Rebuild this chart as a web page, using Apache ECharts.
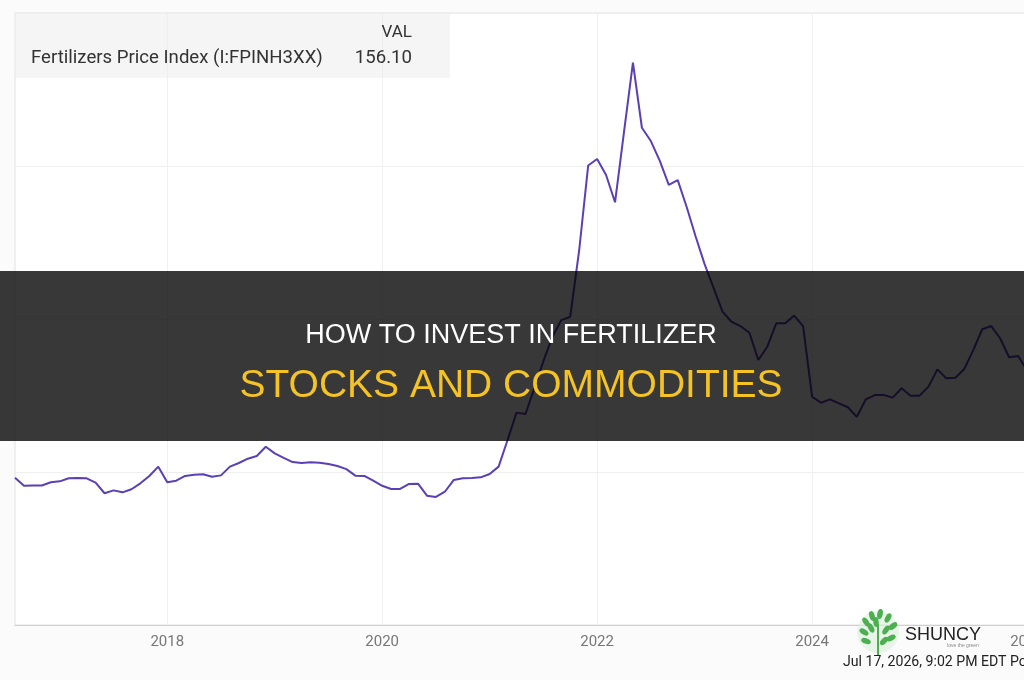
<!DOCTYPE html>
<html>
<head>
<meta charset="utf-8">
<title>Fertilizers Price Index</title>
<script src="https://cdn.jsdelivr.net/npm/echarts@6/dist/echarts.min.js"></script>
<style>
html, body { margin: 0; padding: 0; background: #fff; }
#chart { width: 1024px; height: 680px; }
</style>
</head>
<body>
<div id="chart"></div>
<script>
// monthly index values (Aug 2016 .. Jan 2026)
const v2016 = [96.3, 91.0, 91.2, 91.2, 93.3];
const v2017 = [93.9, 95.9, 96.1, 95.9, 93.0, 86.1, 88.0, 86.7, 88.7, 92.6, 97.4, 103.5];
const v2018 = [93.3, 94.3, 97.4, 98.2, 98.5, 96.9, 97.8, 103.5, 105.9, 108.7, 110.5, 116.5];
const v2019 = [112.2, 109.2, 106.5, 105.9, 106.3, 106.1, 105.2, 103.9, 101.9, 97.6, 97.4, 94.3];
const v2020 = [91.0, 88.9, 88.9, 92.2, 92.4, 84.5, 83.7, 87.1, 94.8, 95.9, 96.1, 96.5];
const v2021 = [98.7, 103.5, 120.9, 138.8, 137.9, 154.9, 172.5, 188.2, 199.3, 201.5, 245.1, 300.3];
const v2022 = [304.6, 294.1, 276.3, 322.2, 367.5, 325.0, 316.3, 303.3, 287.6, 290.8, 273.2, 253.9];
const v2023 = [235.9, 220.3, 204.8, 198.2, 195.4, 191.0, 173.2, 181.9, 197.2, 197.2, 202.2, 195.4];
const v2024 = [149.2, 145.3, 147.5, 144.9, 142.3, 136.1, 147.5, 150.3, 150.3, 148.6, 154.7, 149.9];
const v2025 = [149.9, 155.8, 167.1, 161.2, 161.6, 167.3, 179.7, 193.3, 195.4, 187.4, 175.0, 175.8];
const v2026 = [166.7];

const yearTicks = ['2018', '2020', '2022', '2024', '2026'];
const seriesName = 'Fertilizers Price Index (I:FPINH3XX)';
const lastVal = '156.10';

// [year, first month, values]
const years = [
    [2016, 8, v2016], [2017, 1, v2017], [2018, 1, v2018], [2019, 1, v2019],
    [2020, 1, v2020], [2021, 1, v2021], [2022, 1, v2022], [2023, 1, v2023],
    [2024, 1, v2024], [2025, 1, v2025], [2026, 1, v2026]
];
const months = [];
const values = [];
years.forEach(([y, m0, arr]) => {
    arr.forEach((v, i) => {
        months.push(y + '-' + String(m0 + i).padStart(2, '0'));
        values.push(v);
    });
});

const isYearTick = (index) => {
    const [y, m] = months[index].split('-');
    return m === '01' && yearTicks.includes(y);
};

// little tree for the watermark logo
const leaves = [
    [866, 622, 0.6], [872, 616, 0.3], [880, 614, -0.2], [888, 618, -0.5],
    [893, 626, -0.9], [864, 632, 1.0], [871, 628, 0.5], [886, 630, -0.6],
    [891, 638, -1.1], [866, 641, 1.2], [884, 641, -0.8], [876, 622, 0.1]
];

const chart = echarts.init(document.getElementById('chart'));

chart.setOption({
    animation: false,
    backgroundColor: '#fbfbfb',
    grid: {
        left: 15,
        top: 13,
        right: -3,
        bottom: 55,
        outerBoundsMode: 'none',
        show: true,
        backgroundColor: '#fff',
        borderColor: '#e2e2e2',
        borderWidth: 1
    },
    xAxis: {
        type: 'category',
        data: months,
        boundaryGap: false,
        axisLine: { lineStyle: { color: '#cfcfcf' } },
        axisTick: { show: false },
        axisLabel: {
            interval: (index) => isYearTick(index),
            formatter: (val) => val.slice(0, 4),
            color: '#777',
            fontFamily: 'Roboto',
            fontSize: 15,
            margin: 10
        },
        splitLine: {
            show: true,
            interval: (index) => isYearTick(index),
            lineStyle: { color: '#f0f0f0' }
        }
    },
    yAxis: {
        type: 'value',
        min: 0,
        max: 400,
        interval: 100,
        axisLabel: { show: false },
        axisLine: { show: false },
        axisTick: { show: false },
        splitLine: { lineStyle: { color: '#efefef' } }
    },
    series: [
        {
            name: seriesName,
            type: 'line',
            data: values,
            showSymbol: false,
            lineStyle: { color: '#5b3fb4', width: 2 },
            itemStyle: { color: '#5b3fb4' }
        }
    ],
    graphic: [
        // legend box
        { type: 'rect', z: 100, shape: { x: 15, y: 13, width: 435, height: 65 },
          style: { fill: 'rgba(236,236,236,0.55)' } },
        { type: 'text', z: 101, style: { x: 412, y: 33, text: 'VAL', fill: '#333',
          font: '17px Roboto', textAlign: 'right', textVerticalAlign: 'middle' } },
        { type: 'text', z: 101, style: { x: 31, y: 58, text: seriesName, fill: '#333',
          font: '18.6px Roboto', textAlign: 'left', textVerticalAlign: 'middle' } },
        { type: 'text', z: 101, style: { x: 412, y: 58, text: lastVal, fill: '#333',
          font: '18.6px Roboto', textAlign: 'right', textVerticalAlign: 'middle' } },

        // dark title band
        { type: 'rect', z: 100, shape: { x: 0, y: 271, width: 1024, height: 170 },
          style: { fill: 'rgba(0,0,0,0.78)' } },
        { type: 'text', z: 101, style: { x: 511, y: 336, text: 'HOW TO INVEST IN FERTILIZER',
          fill: '#fff', font: '27px "Liberation Sans"', textAlign: 'center', textVerticalAlign: 'middle' } },
        { type: 'text', z: 101, style: { x: 511, y: 386, text: 'STOCKS AND COMMODITIES',
          fill: '#f6c324', font: '39px "Liberation Sans"', textAlign: 'center', textVerticalAlign: 'middle' } },

        // watermark
        { type: 'circle', z: 100, shape: { cx: 878, cy: 632, r: 21 },
          style: { fill: 'rgba(220,240,220,0.6)' } },
        { type: 'line', z: 101, shape: { x1: 878, y1: 656, x2: 878, y2: 624 },
          style: { stroke: '#4caf50', lineWidth: 2 } },
        ...leaves.map(([x, y, r]) => ({
            type: 'circle', z: 101, x: x, y: y, rotation: r, scaleX: 0.55,
            shape: { cx: 0, cy: 0, r: 5 },
            style: { fill: '#4caf50' }
        })),
        { type: 'text', z: 101, style: { x: 905, y: 635, text: 'SHUNCY', fill: '#222',
          font: '18px "Liberation Sans"', textAlign: 'left', textVerticalAlign: 'middle' } },
        { type: 'text', z: 101, style: { x: 963, y: 646, text: 'love the green', fill: '#888',
          font: '5px "Liberation Sans"', textAlign: 'center', textVerticalAlign: 'middle' } },
        { type: 'text', z: 101, x: 843, y: 662, scaleX: 0.94,
          style: { x: 0, y: 0, text: 'Jul 17, 2026, 9:02 PM EDT Powered by YCHARTS', fill: '#222',
          font: '15px Roboto', textAlign: 'left', textVerticalAlign: 'middle' } }
    ]
});
</script>
</body>
</html>
